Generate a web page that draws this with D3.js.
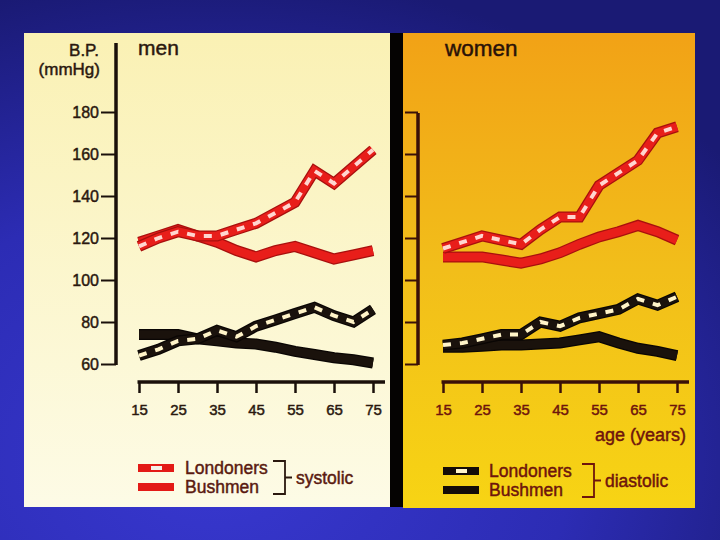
<!DOCTYPE html>
<html>
<head>
<meta charset="utf-8">
<script src="https://cdn.jsdelivr.net/npm/d3@7"></script>
<style>
  body { margin: 0; background: #1e1e80; }
  svg { display: block; }
  text { font-family: "Liberation Sans", Arial, sans-serif; stroke-width: 0.45px; }
</style>
</head>
<body>
<div id="chart-area"></div>
<script>
// ages at which the curves were read (5-year steps)
let ages = [15, 20, 25, 30, 35, 40, 45, 50, 55, 60, 65, 70, 75];
let ageTicks = [15, 25, 35, 45, 55, 65, 75];
let bpTicks = [60, 80, 100, 120, 140, 160, 180];

// men
let menLondonSys = [116, 120, 123, 121, 121, 124, 127, 132, 137, 152, 146, 154, 162];
let menBushSys   = [118, 121, 124, 121, 118, 114, 111, 114, 116, 113, 110, 112, 114];
let menLondonDia = [64, 67, 71, 72, 76, 73, 78, 81, 84, 87, 83, 80, 86];
let menBushDia   = [74, 74, 74, 72, 71, 70, 69.5, 68, 66, 64.5, 63, 62, 60.5];

// women
let womenLondonSys = [115, 118, 121, 119, 117, 124, 130, 130, 145, 151, 157, 170, 173];
let womenBushSys   = [111, 111, 111, 109.5, 108, 110, 113, 117, 120.5, 123, 126, 123, 119];
let womenLondonDia = [69, 70, 72, 74, 74, 80, 78, 82, 84, 86, 91, 88, 92];
let womenBushDia   = [68, 68, 68.5, 69, 69, 69.5, 70, 71.5, 73, 70, 67.5, 66, 64];

let width = 720, height = 540;

let svg = d3.select("#chart-area").append("svg")
  .attr("width", width)
  .attr("height", height);

let defs = svg.append("defs");
let bg = defs.append("radialGradient").attr("id", "bg")
  .attr("cx", "0.3").attr("cy", "0.85").attr("r", "0.9");
bg.append("stop").attr("offset", "0%").attr("stop-color", "#3838d0");
bg.append("stop").attr("offset", "55%").attr("stop-color", "#2c2cb4");
bg.append("stop").attr("offset", "100%").attr("stop-color", "#1a1a74");

let cream = defs.append("linearGradient").attr("id", "cream")
  .attr("x1", 0).attr("y1", 0).attr("x2", 0).attr("y2", 1);
cream.append("stop").attr("offset", "0%").attr("stop-color", "#faf1b4");
cream.append("stop").attr("offset", "100%").attr("stop-color", "#fdfbe6");

let orange = defs.append("linearGradient").attr("id", "orange")
  .attr("x1", 0).attr("y1", 0).attr("x2", 0).attr("y2", 1);
orange.append("stop").attr("offset", "0%").attr("stop-color", "#f2a216");
orange.append("stop").attr("offset", "50%").attr("stop-color", "#f2be1a");
orange.append("stop").attr("offset", "100%").attr("stop-color", "#f7d414");

svg.append("rect").attr("width", width).attr("height", height).attr("fill", "url(#bg)");
svg.append("rect").attr("x", 24).attr("y", 33).attr("width", 366).attr("height", 474).attr("fill", "url(#cream)");
svg.append("rect").attr("x", 390).attr("y", 33).attr("width", 13).attr("height", 474).attr("fill", "#050302");
svg.append("rect").attr("x", 403).attr("y", 33).attr("width", 292).attr("height", 475).attr("fill", "url(#orange)");

let y = d3.scaleLinear().domain([60, 180]).range([364, 112]);
let xMen = d3.scaleLinear().domain([15, 75]).range([139, 373]);
let xWomen = d3.scaleLinear().domain([15, 75]).range([443, 677]);

let RED = "#e81e1a", RED_EDGE = "#a8100e", BLACK = "#1a120c";

function drawLine(g, x, vals, color, edge, dashColor) {
  let line = d3.line().x((d, i) => x(ages[i])).y(d => y(d));
  g.append("path").datum(vals).attr("d", line)
    .attr("fill", "none").attr("stroke", edge).attr("stroke-width", 11)
    .attr("stroke-linejoin", "miter");
  g.append("path").datum(vals).attr("d", line)
    .attr("fill", "none").attr("stroke", color).attr("stroke-width", 8.5)
    .attr("stroke-linejoin", "miter");
  if (dashColor) {
    g.append("path").datum(vals).attr("d", line)
      .attr("fill", "none").attr("stroke", dashColor).attr("stroke-width", 4)
      .attr("stroke-dasharray", "8,9");
  }
}

function drawPanel(x, opts) {
  let g = svg.append("g");

  // y axis
  let axisLeft = d3.axisLeft(y).tickValues(bpTicks).tickSize(opts.tickLen).tickSizeOuter(0)
    .tickFormat(opts.yLabels ? d => d : "");
  let ya = g.append("g").attr("transform", "translate(" + opts.yAxisX + ",0)").call(axisLeft);
  ya.select(".domain").remove();
  ya.selectAll("line").attr("stroke", opts.axisColor).attr("stroke-width", 2);
  ya.selectAll("text").attr("font-size", 16).attr("fill", opts.textColor)
    .attr("stroke", opts.textColor).attr("x", -opts.tickLen - 2);
  g.append("line").attr("x1", opts.yAxisX).attr("x2", opts.yAxisX)
    .attr("y1", opts.yTop).attr("y2", y(60) + 1)
    .attr("stroke", opts.axisColor).attr("stroke-width", 3.5);

  // x axis
  let axisBottom = d3.axisBottom(x).tickValues(ageTicks).tickSize(11).tickSizeOuter(0).tickPadding(11);
  let xa = g.append("g").attr("transform", "translate(0,382)").call(axisBottom);
  xa.select(".domain").remove();
  xa.selectAll("line").attr("stroke", opts.axisColor).attr("stroke-width", 2.5);
  xa.selectAll("text").attr("font-size", 15).attr("fill", opts.textColor).attr("stroke", opts.textColor);
  g.append("line").attr("x1", x(15) - 1.5).attr("x2", x(75) + 12)
    .attr("y1", 382).attr("y2", 382)
    .attr("stroke", opts.axisColor).attr("stroke-width", 3.5);

  drawLine(g, x, opts.bushDia, BLACK, "#0a0604", null);
  drawLine(g, x, opts.londonDia, BLACK, "#0a0604", "#fff4c8");
  drawLine(g, x, opts.bushSys, RED, RED_EDGE, null);
  drawLine(g, x, opts.londonSys, RED, RED_EDGE, "#ffd6d0");
  return g;
}

let men = drawPanel(xMen, {
  yAxisX: 116, yTop: 43, tickLen: 15, yLabels: true,
  axisColor: "#1a100a", textColor: "#2a180e",
  londonSys: menLondonSys, bushSys: menBushSys, londonDia: menLondonDia, bushDia: menBushDia
});
let women = drawPanel(xWomen, {
  yAxisX: 418, yTop: 113, tickLen: 13, yLabels: false,
  axisColor: "#3a1008", textColor: "#6e140c",
  londonSys: womenLondonSys, bushSys: womenBushSys, londonDia: womenLondonDia, bushDia: womenBushDia
});

// titles
men.append("text").attr("x", 99).attr("y", 56).attr("text-anchor", "end")
  .attr("font-size", 17).attr("fill", "#2a180e").attr("stroke", "#2a180e").text("B.P.");
men.append("text").attr("x", 100).attr("y", 75).attr("text-anchor", "end")
  .attr("font-size", 17).attr("fill", "#2a180e").attr("stroke", "#2a180e").text("(mmHg)");
men.append("text").attr("x", 138).attr("y", 55)
  .attr("font-size", 21).attr("fill", "#2a180e").attr("stroke", "#2a180e").text("men");
women.append("text").attr("x", 445).attr("y", 56)
  .attr("font-size", 22.5).attr("fill", "#2a1208").attr("stroke", "#2a1208").text("women");
women.append("text").attr("x", 686).attr("y", 441).attr("text-anchor", "end")
  .attr("font-size", 18).attr("fill", "#6e140c").attr("stroke", "#6e140c").text("age (years)");

// legends
function legend(g, x0, yTop, yBot, swatch, inner, textX, brX, label, textColor, brColor) {
  [["Londoners", yTop, true], ["Bushmen", yBot, false]].forEach(([name, yy, hasInner]) => {
    g.append("rect").attr("x", x0).attr("y", yy - 4).attr("width", 36).attr("height", 8).attr("fill", swatch);
    if (hasInner) {
      g.append("rect").attr("x", x0 + 13).attr("y", yy - 2).attr("width", 11).attr("height", 4).attr("fill", inner);
    }
    g.append("text").attr("x", textX).attr("y", yy).attr("dy", "0.35em")
      .attr("font-size", 17.5).attr("fill", textColor).attr("stroke", textColor).text(name);
  });
  let midY = (yTop + yBot) / 2;
  g.append("path")
    .attr("d", "M" + (brX - 12) + "," + (yTop - 7) + "H" + brX + "V" + (yBot + 7) + "H" + (brX - 12)
      + "M" + brX + "," + midY + "H" + (brX + 7))
    .attr("fill", "none").attr("stroke", brColor).attr("stroke-width", 1.8);
  g.append("text").attr("x", brX + 11).attr("y", midY).attr("dy", "0.35em")
    .attr("font-size", 17.5).attr("fill", textColor).attr("stroke", textColor).text(label);
}

legend(men, 138, 468, 487, "#e31a16", "#f4f0e8", 185, 285, "systolic", "#5a1a10", "#2a180e");
legend(women, 443, 471, 490, "#140c08", "#fff4c8", 489, 594, "diastolic", "#6e140c", "#6e140c");
</script>
</body>
</html>
